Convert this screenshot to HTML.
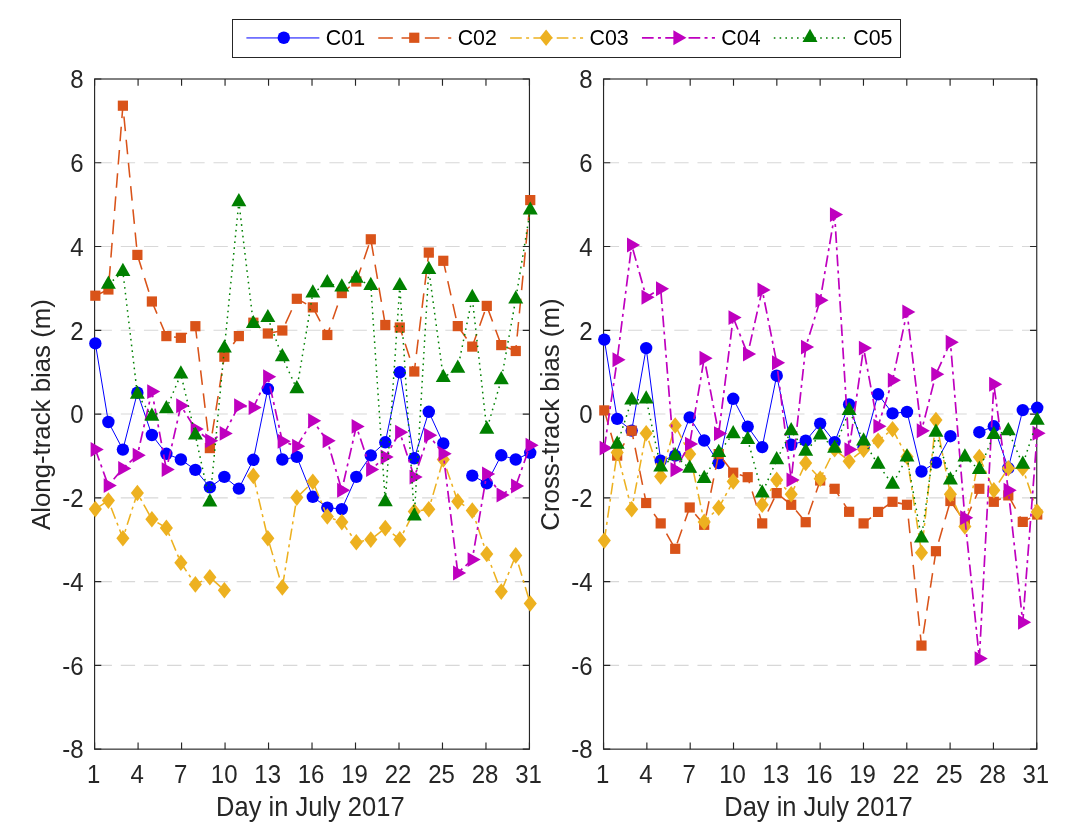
<!DOCTYPE html>
<html lang="en">
<head>
<meta charset="utf-8">
<title>Along-track and cross-track bias, July 2017</title>
<style>
html,body{margin:0;padding:0;background:#ffffff;}
body{width:1074px;height:838px;overflow:hidden;}
svg{display:block;}
</style>
</head>
<body>
<svg width="1074" height="838" viewBox="0 0 1074 838" font-family="'Liberation Sans', sans-serif">
<rect width="1074" height="838" fill="#ffffff"/>
<g>
<line x1="94.6" y1="665.38" x2="529.45" y2="665.38" stroke="#d8d8d8" stroke-width="1.1" stroke-dasharray="14.35 8.83" stroke-dashoffset="20.2"/>
<line x1="94.6" y1="581.61" x2="529.45" y2="581.61" stroke="#d8d8d8" stroke-width="1.1" stroke-dasharray="14.35 8.83" stroke-dashoffset="20.2"/>
<line x1="94.6" y1="497.84" x2="529.45" y2="497.84" stroke="#d8d8d8" stroke-width="1.1" stroke-dasharray="14.35 8.83" stroke-dashoffset="20.2"/>
<line x1="94.6" y1="414.07" x2="529.45" y2="414.07" stroke="#d8d8d8" stroke-width="1.1" stroke-dasharray="14.35 8.83" stroke-dashoffset="20.2"/>
<line x1="94.6" y1="330.31" x2="529.45" y2="330.31" stroke="#d8d8d8" stroke-width="1.1" stroke-dasharray="14.35 8.83" stroke-dashoffset="20.2"/>
<line x1="94.6" y1="246.54" x2="529.45" y2="246.54" stroke="#d8d8d8" stroke-width="1.1" stroke-dasharray="14.35 8.83" stroke-dashoffset="20.2"/>
<line x1="94.6" y1="162.77" x2="529.45" y2="162.77" stroke="#d8d8d8" stroke-width="1.1" stroke-dasharray="14.35 8.83" stroke-dashoffset="20.2"/>
<rect x="94.6" y="79" width="434.85" height="670.15" fill="none" stroke="#262626" stroke-width="1.15"/>
<path d="M94.6 749.15v-6.7M94.6 79v6.7M138.08 749.15v-6.7M138.08 79v6.7M181.57 749.15v-6.7M181.57 79v6.7M225.06 749.15v-6.7M225.06 79v6.7M268.54 749.15v-6.7M268.54 79v6.7M312.02 749.15v-6.7M312.02 79v6.7M355.51 749.15v-6.7M355.51 79v6.7M399 749.15v-6.7M399 79v6.7M442.48 749.15v-6.7M442.48 79v6.7M485.97 749.15v-6.7M485.97 79v6.7M529.45 749.15v-6.7M529.45 79v6.7M94.6 749.15h6.7M529.45 749.15h-6.7M94.6 665.38h6.7M529.45 665.38h-6.7M94.6 581.61h6.7M529.45 581.61h-6.7M94.6 497.84h6.7M529.45 497.84h-6.7M94.6 414.07h6.7M529.45 414.07h-6.7M94.6 330.31h6.7M529.45 330.31h-6.7M94.6 246.54h6.7M529.45 246.54h-6.7M94.6 162.77h6.7M529.45 162.77h-6.7M94.6 79h6.7M529.45 79h-6.7" stroke="#262626" stroke-width="1.15" fill="none"/>
<path d="M95.35 343.4L108.39 422L122.89 449.6L137.38 392.7L151.88 435L166.38 453.8L180.87 459.5L195.37 469.9L209.86 487.3L224.36 476.9L238.85 488.6L253.35 459.8L267.84 388.9L282.33 459.5L296.83 456.9L312.82 496.8L327.32 507.6L341.81 509.1L356.31 476.9L370.81 455.4L385.3 442.3L399.8 372.3L414.29 458.3L428.79 411.8L443.28 443.5" fill="none" stroke="#0000ff" stroke-width="1.0" stroke-linejoin="round"/>
<path d="M472.27 475.6L486.77 483.3L501.26 455.3L515.75 459.5L530.25 452.8" fill="none" stroke="#0000ff" stroke-width="1.0" stroke-linejoin="round"/>
<circle cx="95.35" cy="343.4" r="6.2" fill="#0000ff"/><circle cx="108.39" cy="422" r="6.2" fill="#0000ff"/><circle cx="122.89" cy="449.6" r="6.2" fill="#0000ff"/><circle cx="137.38" cy="392.7" r="6.2" fill="#0000ff"/><circle cx="151.88" cy="435" r="6.2" fill="#0000ff"/><circle cx="166.38" cy="453.8" r="6.2" fill="#0000ff"/><circle cx="180.87" cy="459.5" r="6.2" fill="#0000ff"/><circle cx="195.37" cy="469.9" r="6.2" fill="#0000ff"/><circle cx="209.86" cy="487.3" r="6.2" fill="#0000ff"/><circle cx="224.36" cy="476.9" r="6.2" fill="#0000ff"/><circle cx="238.85" cy="488.6" r="6.2" fill="#0000ff"/><circle cx="253.35" cy="459.8" r="6.2" fill="#0000ff"/><circle cx="267.84" cy="388.9" r="6.2" fill="#0000ff"/><circle cx="282.33" cy="459.5" r="6.2" fill="#0000ff"/><circle cx="296.83" cy="456.9" r="6.2" fill="#0000ff"/><circle cx="312.82" cy="496.8" r="6.2" fill="#0000ff"/><circle cx="327.32" cy="507.6" r="6.2" fill="#0000ff"/><circle cx="341.81" cy="509.1" r="6.2" fill="#0000ff"/><circle cx="356.31" cy="476.9" r="6.2" fill="#0000ff"/><circle cx="370.81" cy="455.4" r="6.2" fill="#0000ff"/><circle cx="385.3" cy="442.3" r="6.2" fill="#0000ff"/><circle cx="399.8" cy="372.3" r="6.2" fill="#0000ff"/><circle cx="414.29" cy="458.3" r="6.2" fill="#0000ff"/><circle cx="428.79" cy="411.8" r="6.2" fill="#0000ff"/><circle cx="443.28" cy="443.5" r="6.2" fill="#0000ff"/><circle cx="472.27" cy="475.6" r="6.2" fill="#0000ff"/><circle cx="486.77" cy="483.3" r="6.2" fill="#0000ff"/><circle cx="501.26" cy="455.3" r="6.2" fill="#0000ff"/><circle cx="515.75" cy="459.5" r="6.2" fill="#0000ff"/><circle cx="530.25" cy="452.8" r="6.2" fill="#0000ff"/>
<path d="M95.35 295.7L108.39 289.5L122.89 105.7L137.38 254.9L151.88 301.5L166.38 336.1L180.87 337.8L195.37 326.2L209.86 448.1L224.36 356.7L238.85 336.1L253.35 322.7L267.84 333.5L282.33 330.5L296.83 298.8L312.82 307.4L327.32 335L341.81 293.1L356.31 281.5L370.81 239.3L385.3 325L399.8 327.5L414.29 371.5L428.79 252.6L443.28 260.8L457.78 326.1L472.27 346.6L486.77 305.9L501.26 345.1L515.75 351L530.25 200.1" fill="none" stroke="#d95319" stroke-width="1.55" stroke-dasharray="14.6 8.7" stroke-linejoin="round"/>
<rect x="90.25" y="290.6" width="10.2" height="10.2" fill="#d95319"/><rect x="103.3" y="284.4" width="10.2" height="10.2" fill="#d95319"/><rect x="117.79" y="100.6" width="10.2" height="10.2" fill="#d95319"/><rect x="132.28" y="249.8" width="10.2" height="10.2" fill="#d95319"/><rect x="146.78" y="296.4" width="10.2" height="10.2" fill="#d95319"/><rect x="161.28" y="331" width="10.2" height="10.2" fill="#d95319"/><rect x="175.77" y="332.7" width="10.2" height="10.2" fill="#d95319"/><rect x="190.27" y="321.1" width="10.2" height="10.2" fill="#d95319"/><rect x="204.76" y="443" width="10.2" height="10.2" fill="#d95319"/><rect x="219.26" y="351.6" width="10.2" height="10.2" fill="#d95319"/><rect x="233.75" y="331" width="10.2" height="10.2" fill="#d95319"/><rect x="248.25" y="317.6" width="10.2" height="10.2" fill="#d95319"/><rect x="262.74" y="328.4" width="10.2" height="10.2" fill="#d95319"/><rect x="277.23" y="325.4" width="10.2" height="10.2" fill="#d95319"/><rect x="291.73" y="293.7" width="10.2" height="10.2" fill="#d95319"/><rect x="307.72" y="302.3" width="10.2" height="10.2" fill="#d95319"/><rect x="322.22" y="329.9" width="10.2" height="10.2" fill="#d95319"/><rect x="336.71" y="288" width="10.2" height="10.2" fill="#d95319"/><rect x="351.21" y="276.4" width="10.2" height="10.2" fill="#d95319"/><rect x="365.7" y="234.2" width="10.2" height="10.2" fill="#d95319"/><rect x="380.2" y="319.9" width="10.2" height="10.2" fill="#d95319"/><rect x="394.69" y="322.4" width="10.2" height="10.2" fill="#d95319"/><rect x="409.19" y="366.4" width="10.2" height="10.2" fill="#d95319"/><rect x="423.69" y="247.5" width="10.2" height="10.2" fill="#d95319"/><rect x="438.18" y="255.7" width="10.2" height="10.2" fill="#d95319"/><rect x="452.68" y="321" width="10.2" height="10.2" fill="#d95319"/><rect x="467.17" y="341.5" width="10.2" height="10.2" fill="#d95319"/><rect x="481.67" y="300.8" width="10.2" height="10.2" fill="#d95319"/><rect x="496.16" y="340" width="10.2" height="10.2" fill="#d95319"/><rect x="510.65" y="345.9" width="10.2" height="10.2" fill="#d95319"/><rect x="525.15" y="195" width="10.2" height="10.2" fill="#d95319"/>
<path d="M95.35 509.1L108.39 500.6L122.89 538.2L137.38 493L151.88 519.2L166.38 527.9L180.87 562.8L195.37 584.4L209.86 577.2L224.36 590.3" fill="none" stroke="#edb120" stroke-width="1.55" stroke-dasharray="11.7 4.3 3 4.3" stroke-linejoin="round"/>
<path d="M253.35 475.9L267.84 538.2L282.33 587.4L296.83 497.6L312.82 481.8L327.32 516.5L341.81 522.1L356.31 542.3L370.81 539.6L385.3 528.1L399.8 539.4L414.29 511.5L428.79 509.2L443.28 459.5L457.78 501.4L472.27 510.6L486.77 554L501.26 591.6L515.75 555.4L530.25 603.5" fill="none" stroke="#edb120" stroke-width="1.55" stroke-dasharray="11.7 4.3 3 4.3" stroke-linejoin="round"/>
<path d="M95.35 500.8L101.9 509.1L95.35 517.4L88.8 509.1Z" fill="#edb120"/><path d="M108.39 492.3L114.94 500.6L108.39 508.9L101.84 500.6Z" fill="#edb120"/><path d="M122.89 529.9L129.44 538.2L122.89 546.5L116.34 538.2Z" fill="#edb120"/><path d="M137.38 484.7L143.94 493L137.38 501.3L130.83 493Z" fill="#edb120"/><path d="M151.88 510.9L158.43 519.2L151.88 527.5L145.33 519.2Z" fill="#edb120"/><path d="M166.38 519.6L172.93 527.9L166.38 536.2L159.82 527.9Z" fill="#edb120"/><path d="M180.87 554.5L187.42 562.8L180.87 571.1L174.32 562.8Z" fill="#edb120"/><path d="M195.37 576.1L201.92 584.4L195.37 592.7L188.81 584.4Z" fill="#edb120"/><path d="M209.86 568.9L216.41 577.2L209.86 585.5L203.31 577.2Z" fill="#edb120"/><path d="M224.36 582L230.91 590.3L224.36 598.6L217.81 590.3Z" fill="#edb120"/><path d="M253.35 467.6L259.9 475.9L253.35 484.2L246.8 475.9Z" fill="#edb120"/><path d="M267.84 529.9L274.39 538.2L267.84 546.5L261.29 538.2Z" fill="#edb120"/><path d="M282.33 579.1L288.88 587.4L282.33 595.7L275.78 587.4Z" fill="#edb120"/><path d="M296.83 489.3L303.38 497.6L296.83 505.9L290.28 497.6Z" fill="#edb120"/><path d="M312.82 473.5L319.38 481.8L312.82 490.1L306.27 481.8Z" fill="#edb120"/><path d="M327.32 508.2L333.87 516.5L327.32 524.8L320.77 516.5Z" fill="#edb120"/><path d="M341.81 513.8L348.37 522.1L341.81 530.4L335.26 522.1Z" fill="#edb120"/><path d="M356.31 534L362.86 542.3L356.31 550.6L349.76 542.3Z" fill="#edb120"/><path d="M370.81 531.3L377.36 539.6L370.81 547.9L364.25 539.6Z" fill="#edb120"/><path d="M385.3 519.8L391.85 528.1L385.3 536.4L378.75 528.1Z" fill="#edb120"/><path d="M399.8 531.1L406.35 539.4L399.8 547.7L393.25 539.4Z" fill="#edb120"/><path d="M414.29 503.2L420.84 511.5L414.29 519.8L407.74 511.5Z" fill="#edb120"/><path d="M428.79 500.9L435.34 509.2L428.79 517.5L422.24 509.2Z" fill="#edb120"/><path d="M443.28 451.2L449.83 459.5L443.28 467.8L436.73 459.5Z" fill="#edb120"/><path d="M457.78 493.1L464.33 501.4L457.78 509.7L451.23 501.4Z" fill="#edb120"/><path d="M472.27 502.3L478.82 510.6L472.27 518.9L465.72 510.6Z" fill="#edb120"/><path d="M486.77 545.7L493.32 554L486.77 562.3L480.22 554Z" fill="#edb120"/><path d="M501.26 583.3L507.81 591.6L501.26 599.9L494.71 591.6Z" fill="#edb120"/><path d="M515.75 547.1L522.3 555.4L515.75 563.7L509.2 555.4Z" fill="#edb120"/><path d="M530.25 595.2L536.8 603.5L530.25 611.8L523.7 603.5Z" fill="#edb120"/>
<path d="M95.35 449.5L108.39 485.6L122.89 468.4L137.38 455.3L151.88 391.6L166.38 469.6L180.87 405.8L195.37 428.9L209.86 440.8L224.36 433.4L238.85 405.8L253.35 407.6L267.84 376.7L282.33 441.3L296.83 446.3L312.82 420.7L327.32 440.8L341.81 490.2L356.31 426.4L370.81 469.6L385.3 457L399.8 432.3L414.29 477.1L428.79 435.2L443.28 453.8L457.78 573L472.27 559.6L486.77 473.9L501.26 495L515.75 486L530.25 445.3" fill="none" stroke="#bf00bf" stroke-width="1.7" stroke-dasharray="11.7 4.3 3 4.3" stroke-linejoin="round"/>
<path d="M90.65 442.05L103.75 449.5L90.65 456.95Z" fill="#bf00bf"/><path d="M103.69 478.15L116.8 485.6L103.69 493.05Z" fill="#bf00bf"/><path d="M118.19 460.95L131.29 468.4L118.19 475.85Z" fill="#bf00bf"/><path d="M132.69 447.85L145.78 455.3L132.69 462.75Z" fill="#bf00bf"/><path d="M147.18 384.15L160.28 391.6L147.18 399.05Z" fill="#bf00bf"/><path d="M161.68 462.15L174.78 469.6L161.68 477.05Z" fill="#bf00bf"/><path d="M176.17 398.35L189.27 405.8L176.17 413.25Z" fill="#bf00bf"/><path d="M190.67 421.45L203.77 428.9L190.67 436.35Z" fill="#bf00bf"/><path d="M205.16 433.35L218.26 440.8L205.16 448.25Z" fill="#bf00bf"/><path d="M219.66 425.95L232.76 433.4L219.66 440.85Z" fill="#bf00bf"/><path d="M234.15 398.35L247.25 405.8L234.15 413.25Z" fill="#bf00bf"/><path d="M248.65 400.15L261.75 407.6L248.65 415.05Z" fill="#bf00bf"/><path d="M263.14 369.25L276.24 376.7L263.14 384.15Z" fill="#bf00bf"/><path d="M277.63 433.85L290.73 441.3L277.63 448.75Z" fill="#bf00bf"/><path d="M292.13 438.85L305.23 446.3L292.13 453.75Z" fill="#bf00bf"/><path d="M308.12 413.25L321.22 420.7L308.12 428.15Z" fill="#bf00bf"/><path d="M322.62 433.35L335.72 440.8L322.62 448.25Z" fill="#bf00bf"/><path d="M337.12 482.75L350.21 490.2L337.12 497.65Z" fill="#bf00bf"/><path d="M351.61 418.95L364.71 426.4L351.61 433.85Z" fill="#bf00bf"/><path d="M366.11 462.15L379.2 469.6L366.11 477.05Z" fill="#bf00bf"/><path d="M380.6 449.55L393.7 457L380.6 464.45Z" fill="#bf00bf"/><path d="M395.1 424.85L408.19 432.3L395.1 439.75Z" fill="#bf00bf"/><path d="M409.59 469.65L422.69 477.1L409.59 484.55Z" fill="#bf00bf"/><path d="M424.09 427.75L437.19 435.2L424.09 442.65Z" fill="#bf00bf"/><path d="M438.58 446.35L451.68 453.8L438.58 461.25Z" fill="#bf00bf"/><path d="M453.08 565.55L466.18 573L453.08 580.45Z" fill="#bf00bf"/><path d="M467.57 552.15L480.67 559.6L467.57 567.05Z" fill="#bf00bf"/><path d="M482.07 466.45L495.17 473.9L482.07 481.35Z" fill="#bf00bf"/><path d="M496.56 487.55L509.66 495L496.56 502.45Z" fill="#bf00bf"/><path d="M511.06 478.55L524.15 486L511.06 493.45Z" fill="#bf00bf"/><path d="M525.55 437.85L538.65 445.3L525.55 452.75Z" fill="#bf00bf"/>
<path d="M108.39 284.5L122.89 271.7L137.38 394.5L151.88 416.4L166.38 408.9L180.87 374.2L195.37 435.3L209.86 502.2L224.36 348.3L238.85 201.9L253.35 323.8L267.84 317.8L282.33 357L296.83 389L312.82 293.1L327.32 283L341.81 287.1L356.31 278.5L370.81 285.6L385.3 502L399.8 285.8L414.29 516.2L428.79 269.7L443.28 377.6L457.78 368.4L472.27 297.6L486.77 429.5L501.26 379.9L515.75 299.1L530.25 210.3" fill="none" stroke="#008000" stroke-width="1.5" stroke-dasharray="1.6 4.2" stroke-linejoin="round"/>
<path d="M108.39 275.6L115.89 288.8L100.89 288.8Z" fill="#008000"/><path d="M122.89 262.8L130.39 276L115.39 276Z" fill="#008000"/><path d="M137.38 385.6L144.88 398.8L129.88 398.8Z" fill="#008000"/><path d="M151.88 407.5L159.38 420.7L144.38 420.7Z" fill="#008000"/><path d="M166.38 400L173.88 413.2L158.88 413.2Z" fill="#008000"/><path d="M180.87 365.3L188.37 378.5L173.37 378.5Z" fill="#008000"/><path d="M195.37 426.4L202.87 439.6L187.87 439.6Z" fill="#008000"/><path d="M209.86 493.3L217.36 506.5L202.36 506.5Z" fill="#008000"/><path d="M224.36 339.4L231.86 352.6L216.86 352.6Z" fill="#008000"/><path d="M238.85 193L246.35 206.2L231.35 206.2Z" fill="#008000"/><path d="M253.35 314.9L260.85 328.1L245.85 328.1Z" fill="#008000"/><path d="M267.84 308.9L275.34 322.1L260.34 322.1Z" fill="#008000"/><path d="M282.33 348.1L289.83 361.3L274.83 361.3Z" fill="#008000"/><path d="M296.83 380.1L304.33 393.3L289.33 393.3Z" fill="#008000"/><path d="M312.82 284.2L320.32 297.4L305.32 297.4Z" fill="#008000"/><path d="M327.32 274.1L334.82 287.3L319.82 287.3Z" fill="#008000"/><path d="M341.81 278.2L349.31 291.4L334.31 291.4Z" fill="#008000"/><path d="M356.31 269.6L363.81 282.8L348.81 282.8Z" fill="#008000"/><path d="M370.81 276.7L378.31 289.9L363.31 289.9Z" fill="#008000"/><path d="M385.3 493.1L392.8 506.3L377.8 506.3Z" fill="#008000"/><path d="M399.8 276.9L407.3 290.1L392.3 290.1Z" fill="#008000"/><path d="M414.29 507.3L421.79 520.5L406.79 520.5Z" fill="#008000"/><path d="M428.79 260.8L436.29 274L421.29 274Z" fill="#008000"/><path d="M443.28 368.7L450.78 381.9L435.78 381.9Z" fill="#008000"/><path d="M457.78 359.5L465.28 372.7L450.28 372.7Z" fill="#008000"/><path d="M472.27 288.7L479.77 301.9L464.77 301.9Z" fill="#008000"/><path d="M486.77 420.6L494.27 433.8L479.27 433.8Z" fill="#008000"/><path d="M501.26 371L508.76 384.2L493.76 384.2Z" fill="#008000"/><path d="M515.75 290.2L523.25 303.4L508.25 303.4Z" fill="#008000"/><path d="M530.25 201.4L537.75 214.6L522.75 214.6Z" fill="#008000"/>
<g fill="#262626" font-size="24">
<text transform="translate(93.7 783) scale(1 1.055)" text-anchor="middle">1</text>
<text transform="translate(137.18 783) scale(1 1.055)" text-anchor="middle">4</text>
<text transform="translate(180.67 783) scale(1 1.055)" text-anchor="middle">7</text>
<text transform="translate(224.16 783) scale(1 1.055)" text-anchor="middle">10</text>
<text transform="translate(267.64 783) scale(1 1.055)" text-anchor="middle">13</text>
<text transform="translate(311.12 783) scale(1 1.055)" text-anchor="middle">16</text>
<text transform="translate(354.61 783) scale(1 1.055)" text-anchor="middle">19</text>
<text transform="translate(398.1 783) scale(1 1.055)" text-anchor="middle">22</text>
<text transform="translate(441.58 783) scale(1 1.055)" text-anchor="middle">25</text>
<text transform="translate(485.07 783) scale(1 1.055)" text-anchor="middle">28</text>
<text transform="translate(528.55 783) scale(1 1.055)" text-anchor="middle">31</text>
<text transform="translate(83.7 758.45) scale(1 1.055)" text-anchor="end">-8</text>
<text transform="translate(83.7 674.68) scale(1 1.055)" text-anchor="end">-6</text>
<text transform="translate(83.7 590.91) scale(1 1.055)" text-anchor="end">-4</text>
<text transform="translate(83.7 507.14) scale(1 1.055)" text-anchor="end">-2</text>
<text transform="translate(83.7 423.38) scale(1 1.055)" text-anchor="end">0</text>
<text transform="translate(83.7 339.61) scale(1 1.055)" text-anchor="end">2</text>
<text transform="translate(83.7 255.84) scale(1 1.055)" text-anchor="end">4</text>
<text transform="translate(83.7 172.07) scale(1 1.055)" text-anchor="end">6</text>
<text transform="translate(83.7 88.3) scale(1 1.055)" text-anchor="end">8</text>
</g>
<text transform="translate(310.33 816) scale(1 1.055)" text-anchor="middle" font-size="25.5" fill="#262626">Day in July 2017</text>
<text transform="translate(50.1 414.57) rotate(-90)" text-anchor="middle" font-size="25.8" fill="#262626">Along-track bias (m)</text>
</g>
<g>
<line x1="603.55" y1="665.38" x2="1036.75" y2="665.38" stroke="#d8d8d8" stroke-width="1.1" stroke-dasharray="14.35 8.83" stroke-dashoffset="22.0"/>
<line x1="603.55" y1="581.61" x2="1036.75" y2="581.61" stroke="#d8d8d8" stroke-width="1.1" stroke-dasharray="14.35 8.83" stroke-dashoffset="22.0"/>
<line x1="603.55" y1="497.84" x2="1036.75" y2="497.84" stroke="#d8d8d8" stroke-width="1.1" stroke-dasharray="14.35 8.83" stroke-dashoffset="22.0"/>
<line x1="603.55" y1="414.07" x2="1036.75" y2="414.07" stroke="#d8d8d8" stroke-width="1.1" stroke-dasharray="14.35 8.83" stroke-dashoffset="22.0"/>
<line x1="603.55" y1="330.31" x2="1036.75" y2="330.31" stroke="#d8d8d8" stroke-width="1.1" stroke-dasharray="14.35 8.83" stroke-dashoffset="22.0"/>
<line x1="603.55" y1="246.54" x2="1036.75" y2="246.54" stroke="#d8d8d8" stroke-width="1.1" stroke-dasharray="14.35 8.83" stroke-dashoffset="22.0"/>
<line x1="603.55" y1="162.77" x2="1036.75" y2="162.77" stroke="#d8d8d8" stroke-width="1.1" stroke-dasharray="14.35 8.83" stroke-dashoffset="22.0"/>
<rect x="603.55" y="79" width="433.2" height="670.15" fill="none" stroke="#262626" stroke-width="1.15"/>
<path d="M603.55 749.15v-6.7M603.55 79v6.7M646.87 749.15v-6.7M646.87 79v6.7M690.19 749.15v-6.7M690.19 79v6.7M733.51 749.15v-6.7M733.51 79v6.7M776.83 749.15v-6.7M776.83 79v6.7M820.15 749.15v-6.7M820.15 79v6.7M863.47 749.15v-6.7M863.47 79v6.7M906.79 749.15v-6.7M906.79 79v6.7M950.11 749.15v-6.7M950.11 79v6.7M993.43 749.15v-6.7M993.43 79v6.7M1036.75 749.15v-6.7M1036.75 79v6.7M603.55 749.15h6.7M1036.75 749.15h-6.7M603.55 665.38h6.7M1036.75 665.38h-6.7M603.55 581.61h6.7M1036.75 581.61h-6.7M603.55 497.84h6.7M1036.75 497.84h-6.7M603.55 414.07h6.7M1036.75 414.07h-6.7M603.55 330.31h6.7M1036.75 330.31h-6.7M603.55 246.54h6.7M1036.75 246.54h-6.7M603.55 162.77h6.7M1036.75 162.77h-6.7M603.55 79h6.7M1036.75 79h-6.7" stroke="#262626" stroke-width="1.15" fill="none"/>
<path d="M604.3 339.6L617.19 418.9L631.69 430.6L646.19 348.1L660.69 460.8L675.2 455.6L689.7 417.4L704.2 440.5L718.7 463L733.2 398.8L747.7 426.6L762.21 447.1L776.71 375.7L791.21 444.8L805.71 440.7L820.18 423.6L834.65 442.1L849.12 404.5L863.59 447.4L878.06 394.3L892.53 413.4L907 411.9L921.47 471.5L935.94 462.6L950.41 436.2" fill="none" stroke="#0000ff" stroke-width="1.0" stroke-linejoin="round"/>
<path d="M979.35 432.2L993.82 426.3L1008.29 468.2L1022.76 410.1L1037.23 407.8" fill="none" stroke="#0000ff" stroke-width="1.0" stroke-linejoin="round"/>
<circle cx="604.3" cy="339.6" r="6.2" fill="#0000ff"/><circle cx="617.19" cy="418.9" r="6.2" fill="#0000ff"/><circle cx="631.69" cy="430.6" r="6.2" fill="#0000ff"/><circle cx="646.19" cy="348.1" r="6.2" fill="#0000ff"/><circle cx="660.69" cy="460.8" r="6.2" fill="#0000ff"/><circle cx="675.2" cy="455.6" r="6.2" fill="#0000ff"/><circle cx="689.7" cy="417.4" r="6.2" fill="#0000ff"/><circle cx="704.2" cy="440.5" r="6.2" fill="#0000ff"/><circle cx="718.7" cy="463" r="6.2" fill="#0000ff"/><circle cx="733.2" cy="398.8" r="6.2" fill="#0000ff"/><circle cx="747.7" cy="426.6" r="6.2" fill="#0000ff"/><circle cx="762.21" cy="447.1" r="6.2" fill="#0000ff"/><circle cx="776.71" cy="375.7" r="6.2" fill="#0000ff"/><circle cx="791.21" cy="444.8" r="6.2" fill="#0000ff"/><circle cx="805.71" cy="440.7" r="6.2" fill="#0000ff"/><circle cx="820.18" cy="423.6" r="6.2" fill="#0000ff"/><circle cx="834.65" cy="442.1" r="6.2" fill="#0000ff"/><circle cx="849.12" cy="404.5" r="6.2" fill="#0000ff"/><circle cx="863.59" cy="447.4" r="6.2" fill="#0000ff"/><circle cx="878.06" cy="394.3" r="6.2" fill="#0000ff"/><circle cx="892.53" cy="413.4" r="6.2" fill="#0000ff"/><circle cx="907" cy="411.9" r="6.2" fill="#0000ff"/><circle cx="921.47" cy="471.5" r="6.2" fill="#0000ff"/><circle cx="935.94" cy="462.6" r="6.2" fill="#0000ff"/><circle cx="950.41" cy="436.2" r="6.2" fill="#0000ff"/><circle cx="979.35" cy="432.2" r="6.2" fill="#0000ff"/><circle cx="993.82" cy="426.3" r="6.2" fill="#0000ff"/><circle cx="1008.29" cy="468.2" r="6.2" fill="#0000ff"/><circle cx="1022.76" cy="410.1" r="6.2" fill="#0000ff"/><circle cx="1037.23" cy="407.8" r="6.2" fill="#0000ff"/>
<path d="M604.3 410.4L617.19 455.6L631.69 430.7L646.19 503L660.69 523.4L675.2 548.8L689.7 507.5L704.2 524.8L718.7 454.1L733.2 472.7L747.7 477.2L762.21 523.4L776.71 493.1L791.21 504.8L805.71 522.2L820.18 480.5L834.65 488.8L849.12 511.8L863.59 523.4L878.06 511.9L892.53 501.8L907 504.8L921.47 645.6L935.94 551.2L950.41 501L964.88 521.9L979.35 488.8L993.82 501.8L1008.29 495.4L1022.76 521.9L1037.23 514.5" fill="none" stroke="#d95319" stroke-width="1.55" stroke-dasharray="14.6 8.7" stroke-linejoin="round"/>
<rect x="599.2" y="405.3" width="10.2" height="10.2" fill="#d95319"/><rect x="612.09" y="450.5" width="10.2" height="10.2" fill="#d95319"/><rect x="626.59" y="425.6" width="10.2" height="10.2" fill="#d95319"/><rect x="641.09" y="497.9" width="10.2" height="10.2" fill="#d95319"/><rect x="655.59" y="518.3" width="10.2" height="10.2" fill="#d95319"/><rect x="670.1" y="543.7" width="10.2" height="10.2" fill="#d95319"/><rect x="684.6" y="502.4" width="10.2" height="10.2" fill="#d95319"/><rect x="699.1" y="519.7" width="10.2" height="10.2" fill="#d95319"/><rect x="713.6" y="449" width="10.2" height="10.2" fill="#d95319"/><rect x="728.1" y="467.6" width="10.2" height="10.2" fill="#d95319"/><rect x="742.6" y="472.1" width="10.2" height="10.2" fill="#d95319"/><rect x="757.11" y="518.3" width="10.2" height="10.2" fill="#d95319"/><rect x="771.61" y="488" width="10.2" height="10.2" fill="#d95319"/><rect x="786.11" y="499.7" width="10.2" height="10.2" fill="#d95319"/><rect x="800.61" y="517.1" width="10.2" height="10.2" fill="#d95319"/><rect x="815.08" y="475.4" width="10.2" height="10.2" fill="#d95319"/><rect x="829.55" y="483.7" width="10.2" height="10.2" fill="#d95319"/><rect x="844.02" y="506.7" width="10.2" height="10.2" fill="#d95319"/><rect x="858.49" y="518.3" width="10.2" height="10.2" fill="#d95319"/><rect x="872.96" y="506.8" width="10.2" height="10.2" fill="#d95319"/><rect x="887.43" y="496.7" width="10.2" height="10.2" fill="#d95319"/><rect x="901.9" y="499.7" width="10.2" height="10.2" fill="#d95319"/><rect x="916.37" y="640.5" width="10.2" height="10.2" fill="#d95319"/><rect x="930.84" y="546.1" width="10.2" height="10.2" fill="#d95319"/><rect x="945.31" y="495.9" width="10.2" height="10.2" fill="#d95319"/><rect x="959.78" y="516.8" width="10.2" height="10.2" fill="#d95319"/><rect x="974.25" y="483.7" width="10.2" height="10.2" fill="#d95319"/><rect x="988.72" y="496.7" width="10.2" height="10.2" fill="#d95319"/><rect x="1003.19" y="490.3" width="10.2" height="10.2" fill="#d95319"/><rect x="1017.66" y="516.8" width="10.2" height="10.2" fill="#d95319"/><rect x="1032.13" y="509.4" width="10.2" height="10.2" fill="#d95319"/>
<path d="M604.3 540.6L617.19 452.6L631.69 509.3L646.19 433.2L660.69 476.4L675.2 425.5L689.7 454.1L704.2 521.9L718.7 507.8L733.2 481.4" fill="none" stroke="#edb120" stroke-width="1.55" stroke-dasharray="11.7 4.3 3 4.3" stroke-linejoin="round"/>
<path d="M762.21 504.8L776.71 479.9L791.21 494.3L805.71 463L820.18 478.7L834.65 449.3L849.12 461.2L863.59 449.6L878.06 440.7L892.53 429.3L907 456.8L921.47 552.7L935.94 420.1L950.41 494.3L964.88 526.4L979.35 457.1L993.82 490.2L1008.29 468.2L1022.76 468.2L1037.23 511.9" fill="none" stroke="#edb120" stroke-width="1.55" stroke-dasharray="11.7 4.3 3 4.3" stroke-linejoin="round"/>
<path d="M604.3 532.3L610.85 540.6L604.3 548.9L597.75 540.6Z" fill="#edb120"/><path d="M617.19 444.3L623.74 452.6L617.19 460.9L610.64 452.6Z" fill="#edb120"/><path d="M631.69 501L638.24 509.3L631.69 517.6L625.14 509.3Z" fill="#edb120"/><path d="M646.19 424.9L652.74 433.2L646.19 441.5L639.64 433.2Z" fill="#edb120"/><path d="M660.69 468.1L667.24 476.4L660.69 484.7L654.14 476.4Z" fill="#edb120"/><path d="M675.2 417.2L681.75 425.5L675.2 433.8L668.65 425.5Z" fill="#edb120"/><path d="M689.7 445.8L696.25 454.1L689.7 462.4L683.15 454.1Z" fill="#edb120"/><path d="M704.2 513.6L710.75 521.9L704.2 530.2L697.65 521.9Z" fill="#edb120"/><path d="M718.7 499.5L725.25 507.8L718.7 516.1L712.15 507.8Z" fill="#edb120"/><path d="M733.2 473.1L739.75 481.4L733.2 489.7L726.65 481.4Z" fill="#edb120"/><path d="M762.21 496.5L768.75 504.8L762.21 513.1L755.66 504.8Z" fill="#edb120"/><path d="M776.71 471.6L783.26 479.9L776.71 488.2L770.16 479.9Z" fill="#edb120"/><path d="M791.21 486L797.76 494.3L791.21 502.6L784.66 494.3Z" fill="#edb120"/><path d="M805.71 454.7L812.26 463L805.71 471.3L799.16 463Z" fill="#edb120"/><path d="M820.18 470.4L826.73 478.7L820.18 487L813.63 478.7Z" fill="#edb120"/><path d="M834.65 441L841.2 449.3L834.65 457.6L828.1 449.3Z" fill="#edb120"/><path d="M849.12 452.9L855.67 461.2L849.12 469.5L842.57 461.2Z" fill="#edb120"/><path d="M863.59 441.3L870.14 449.6L863.59 457.9L857.04 449.6Z" fill="#edb120"/><path d="M878.06 432.4L884.61 440.7L878.06 449L871.51 440.7Z" fill="#edb120"/><path d="M892.53 421L899.08 429.3L892.53 437.6L885.98 429.3Z" fill="#edb120"/><path d="M907 448.5L913.55 456.8L907 465.1L900.45 456.8Z" fill="#edb120"/><path d="M921.47 544.4L928.02 552.7L921.47 561L914.92 552.7Z" fill="#edb120"/><path d="M935.94 411.8L942.49 420.1L935.94 428.4L929.39 420.1Z" fill="#edb120"/><path d="M950.41 486L956.96 494.3L950.41 502.6L943.86 494.3Z" fill="#edb120"/><path d="M964.88 518.1L971.43 526.4L964.88 534.7L958.33 526.4Z" fill="#edb120"/><path d="M979.35 448.8L985.9 457.1L979.35 465.4L972.8 457.1Z" fill="#edb120"/><path d="M993.82 481.9L1000.37 490.2L993.82 498.5L987.27 490.2Z" fill="#edb120"/><path d="M1008.29 459.9L1014.84 468.2L1008.29 476.5L1001.74 468.2Z" fill="#edb120"/><path d="M1022.76 459.9L1029.31 468.2L1022.76 476.5L1016.21 468.2Z" fill="#edb120"/><path d="M1037.23 503.6L1043.78 511.9L1037.23 520.2L1030.68 511.9Z" fill="#edb120"/>
<path d="M604.3 448.1L617.19 359.7L631.69 245L646.19 297.2L660.69 288.7L675.2 469.7L689.7 444.1L704.2 358.2L718.7 433.6L733.2 317.6L747.7 354.1L762.21 289.9L776.71 362.7L791.21 479.9L805.71 347.1L820.18 300.2L834.65 214.6L849.12 449.6L863.59 348.1L878.06 426.3L892.53 380.2L907 311.9L921.47 430.8L935.94 374.3L950.41 342.2L964.88 517.8L979.35 658.6L993.82 384.3L1008.29 490.2L1022.76 622.3L1037.23 433.2" fill="none" stroke="#bf00bf" stroke-width="1.7" stroke-dasharray="11.7 4.3 3 4.3" stroke-linejoin="round"/>
<path d="M599.6 440.65L612.7 448.1L599.6 455.55Z" fill="#bf00bf"/><path d="M612.49 352.25L625.59 359.7L612.49 367.15Z" fill="#bf00bf"/><path d="M626.99 237.55L640.09 245L626.99 252.45Z" fill="#bf00bf"/><path d="M641.49 289.75L654.59 297.2L641.49 304.65Z" fill="#bf00bf"/><path d="M655.99 281.25L669.09 288.7L655.99 296.15Z" fill="#bf00bf"/><path d="M670.5 462.25L683.6 469.7L670.5 477.15Z" fill="#bf00bf"/><path d="M685 436.65L698.1 444.1L685 451.55Z" fill="#bf00bf"/><path d="M699.5 350.75L712.6 358.2L699.5 365.65Z" fill="#bf00bf"/><path d="M714 426.15L727.1 433.6L714 441.05Z" fill="#bf00bf"/><path d="M728.5 310.15L741.6 317.6L728.5 325.05Z" fill="#bf00bf"/><path d="M743 346.65L756.1 354.1L743 361.55Z" fill="#bf00bf"/><path d="M757.5 282.45L770.61 289.9L757.5 297.35Z" fill="#bf00bf"/><path d="M772.01 355.25L785.11 362.7L772.01 370.15Z" fill="#bf00bf"/><path d="M786.51 472.45L799.61 479.9L786.51 487.35Z" fill="#bf00bf"/><path d="M801.01 339.65L814.11 347.1L801.01 354.55Z" fill="#bf00bf"/><path d="M815.48 292.75L828.58 300.2L815.48 307.65Z" fill="#bf00bf"/><path d="M829.95 207.15L843.05 214.6L829.95 222.05Z" fill="#bf00bf"/><path d="M844.42 442.15L857.52 449.6L844.42 457.05Z" fill="#bf00bf"/><path d="M858.89 340.65L871.99 348.1L858.89 355.55Z" fill="#bf00bf"/><path d="M873.36 418.85L886.46 426.3L873.36 433.75Z" fill="#bf00bf"/><path d="M887.83 372.75L900.93 380.2L887.83 387.65Z" fill="#bf00bf"/><path d="M902.3 304.45L915.4 311.9L902.3 319.35Z" fill="#bf00bf"/><path d="M916.77 423.35L929.87 430.8L916.77 438.25Z" fill="#bf00bf"/><path d="M931.24 366.85L944.34 374.3L931.24 381.75Z" fill="#bf00bf"/><path d="M945.71 334.75L958.81 342.2L945.71 349.65Z" fill="#bf00bf"/><path d="M960.18 510.35L973.28 517.8L960.18 525.25Z" fill="#bf00bf"/><path d="M974.65 651.15L987.75 658.6L974.65 666.05Z" fill="#bf00bf"/><path d="M989.12 376.85L1002.22 384.3L989.12 391.75Z" fill="#bf00bf"/><path d="M1003.59 482.75L1016.69 490.2L1003.59 497.65Z" fill="#bf00bf"/><path d="M1018.06 614.85L1031.16 622.3L1018.06 629.75Z" fill="#bf00bf"/><path d="M1032.53 425.75L1045.63 433.2L1032.53 440.65Z" fill="#bf00bf"/>
<path d="M617.19 444.4L631.69 400.3L646.19 399.1L660.69 467.3L675.2 455.9L689.7 468.5L704.2 478.7L718.7 452.6L733.2 433.9L747.7 439.6L762.21 493.1L776.71 460L791.21 431L805.71 451.4L820.18 435.1L834.65 448.4L849.12 410.6L863.59 441.1L878.06 464.4L892.53 484.5L907 457.1L921.47 538.3L935.94 432.4L950.41 480.2L964.88 457.1L979.35 469.7L993.82 434.8L1008.29 431L1022.76 464.5L1037.23 420.4" fill="none" stroke="#008000" stroke-width="1.5" stroke-dasharray="1.6 4.2" stroke-linejoin="round"/>
<path d="M617.19 435.5L624.69 448.7L609.69 448.7Z" fill="#008000"/><path d="M631.69 391.4L639.19 404.6L624.19 404.6Z" fill="#008000"/><path d="M646.19 390.2L653.69 403.4L638.69 403.4Z" fill="#008000"/><path d="M660.69 458.4L668.19 471.6L653.19 471.6Z" fill="#008000"/><path d="M675.2 447L682.7 460.2L667.7 460.2Z" fill="#008000"/><path d="M689.7 459.6L697.2 472.8L682.2 472.8Z" fill="#008000"/><path d="M704.2 469.8L711.7 483L696.7 483Z" fill="#008000"/><path d="M718.7 443.7L726.2 456.9L711.2 456.9Z" fill="#008000"/><path d="M733.2 425L740.7 438.2L725.7 438.2Z" fill="#008000"/><path d="M747.7 430.7L755.2 443.9L740.2 443.9Z" fill="#008000"/><path d="M762.21 484.2L769.71 497.4L754.71 497.4Z" fill="#008000"/><path d="M776.71 451.1L784.21 464.3L769.21 464.3Z" fill="#008000"/><path d="M791.21 422.1L798.71 435.3L783.71 435.3Z" fill="#008000"/><path d="M805.71 442.5L813.21 455.7L798.21 455.7Z" fill="#008000"/><path d="M820.18 426.2L827.68 439.4L812.68 439.4Z" fill="#008000"/><path d="M834.65 439.5L842.15 452.7L827.15 452.7Z" fill="#008000"/><path d="M849.12 401.7L856.62 414.9L841.62 414.9Z" fill="#008000"/><path d="M863.59 432.2L871.09 445.4L856.09 445.4Z" fill="#008000"/><path d="M878.06 455.5L885.56 468.7L870.56 468.7Z" fill="#008000"/><path d="M892.53 475.6L900.03 488.8L885.03 488.8Z" fill="#008000"/><path d="M907 448.2L914.5 461.4L899.5 461.4Z" fill="#008000"/><path d="M921.47 529.4L928.97 542.6L913.97 542.6Z" fill="#008000"/><path d="M935.94 423.5L943.44 436.7L928.44 436.7Z" fill="#008000"/><path d="M950.41 471.3L957.91 484.5L942.91 484.5Z" fill="#008000"/><path d="M964.88 448.2L972.38 461.4L957.38 461.4Z" fill="#008000"/><path d="M979.35 460.8L986.85 474L971.85 474Z" fill="#008000"/><path d="M993.82 425.9L1001.32 439.1L986.32 439.1Z" fill="#008000"/><path d="M1008.29 422.1L1015.79 435.3L1000.79 435.3Z" fill="#008000"/><path d="M1022.76 455.6L1030.26 468.8L1015.26 468.8Z" fill="#008000"/><path d="M1037.23 411.5L1044.73 424.7L1029.73 424.7Z" fill="#008000"/>
<g fill="#262626" font-size="24">
<text transform="translate(602.65 783) scale(1 1.055)" text-anchor="middle">1</text>
<text transform="translate(645.97 783) scale(1 1.055)" text-anchor="middle">4</text>
<text transform="translate(689.29 783) scale(1 1.055)" text-anchor="middle">7</text>
<text transform="translate(732.61 783) scale(1 1.055)" text-anchor="middle">10</text>
<text transform="translate(775.93 783) scale(1 1.055)" text-anchor="middle">13</text>
<text transform="translate(819.25 783) scale(1 1.055)" text-anchor="middle">16</text>
<text transform="translate(862.57 783) scale(1 1.055)" text-anchor="middle">19</text>
<text transform="translate(905.89 783) scale(1 1.055)" text-anchor="middle">22</text>
<text transform="translate(949.21 783) scale(1 1.055)" text-anchor="middle">25</text>
<text transform="translate(992.53 783) scale(1 1.055)" text-anchor="middle">28</text>
<text transform="translate(1035.85 783) scale(1 1.055)" text-anchor="middle">31</text>
<text transform="translate(592.65 758.45) scale(1 1.055)" text-anchor="end">-8</text>
<text transform="translate(592.65 674.68) scale(1 1.055)" text-anchor="end">-6</text>
<text transform="translate(592.65 590.91) scale(1 1.055)" text-anchor="end">-4</text>
<text transform="translate(592.65 507.14) scale(1 1.055)" text-anchor="end">-2</text>
<text transform="translate(592.65 423.38) scale(1 1.055)" text-anchor="end">0</text>
<text transform="translate(592.65 339.61) scale(1 1.055)" text-anchor="end">2</text>
<text transform="translate(592.65 255.84) scale(1 1.055)" text-anchor="end">4</text>
<text transform="translate(592.65 172.07) scale(1 1.055)" text-anchor="end">6</text>
<text transform="translate(592.65 88.3) scale(1 1.055)" text-anchor="end">8</text>
</g>
<text transform="translate(818.45 816) scale(1 1.055)" text-anchor="middle" font-size="25.5" fill="#262626">Day in July 2017</text>
<text transform="translate(559.05 414.57) rotate(-90)" text-anchor="middle" font-size="25.8" fill="#262626">Cross-track bias (m)</text>
</g>
<g>
<rect x="232.5" y="19.5" width="668" height="38" fill="#ffffff" stroke="#262626" stroke-width="1"/>
<path d="M246.4 37.95L319.4 37.95" fill="none" stroke="#0000ff" stroke-width="1.0" stroke-linejoin="round"/>
<circle cx="283.8" cy="37.75" r="6.2" fill="#0000ff"/>
<text transform="translate(325.8 44.7) scale(1 1.055)" font-size="21.4" fill="#000000">C01</text>
<path d="M378.25 37.95L451.25 37.95" fill="none" stroke="#d95319" stroke-width="1.55" stroke-dasharray="14.6 8.7" stroke-linejoin="round"/>
<rect x="409.15" y="32.65" width="10.2" height="10.2" fill="#d95319"/>
<text transform="translate(457.65 44.7) scale(1 1.055)" font-size="21.4" fill="#000000">C02</text>
<path d="M510.1 37.95L583.1 37.95" fill="none" stroke="#edb120" stroke-width="1.55" stroke-dasharray="11.7 4.3 3 4.3" stroke-linejoin="round"/>
<path d="M546.1 29.45L552.65 37.75L546.1 46.05L539.55 37.75Z" fill="#edb120"/>
<text transform="translate(589.5 44.7) scale(1 1.055)" font-size="21.4" fill="#000000">C03</text>
<path d="M641.95 37.95L714.95 37.95" fill="none" stroke="#bf00bf" stroke-width="1.7" stroke-dasharray="11.7 4.3 3 4.3" stroke-linejoin="round"/>
<path d="M673.35 30.3L686.45 37.75L673.35 45.2Z" fill="#bf00bf"/>
<text transform="translate(721.35 44.7) scale(1 1.055)" font-size="21.4" fill="#000000">C04</text>
<path d="M773.8 37.95L846.8 37.95" fill="none" stroke="#008000" stroke-width="1.5" stroke-dasharray="1.6 4.2" stroke-linejoin="round"/>
<path d="M810 28.85L817.5 42.05L802.5 42.05Z" fill="#008000"/>
<text transform="translate(853.2 44.7) scale(1 1.055)" font-size="21.4" fill="#000000">C05</text>
</g>
</svg>
</body>
</html>
